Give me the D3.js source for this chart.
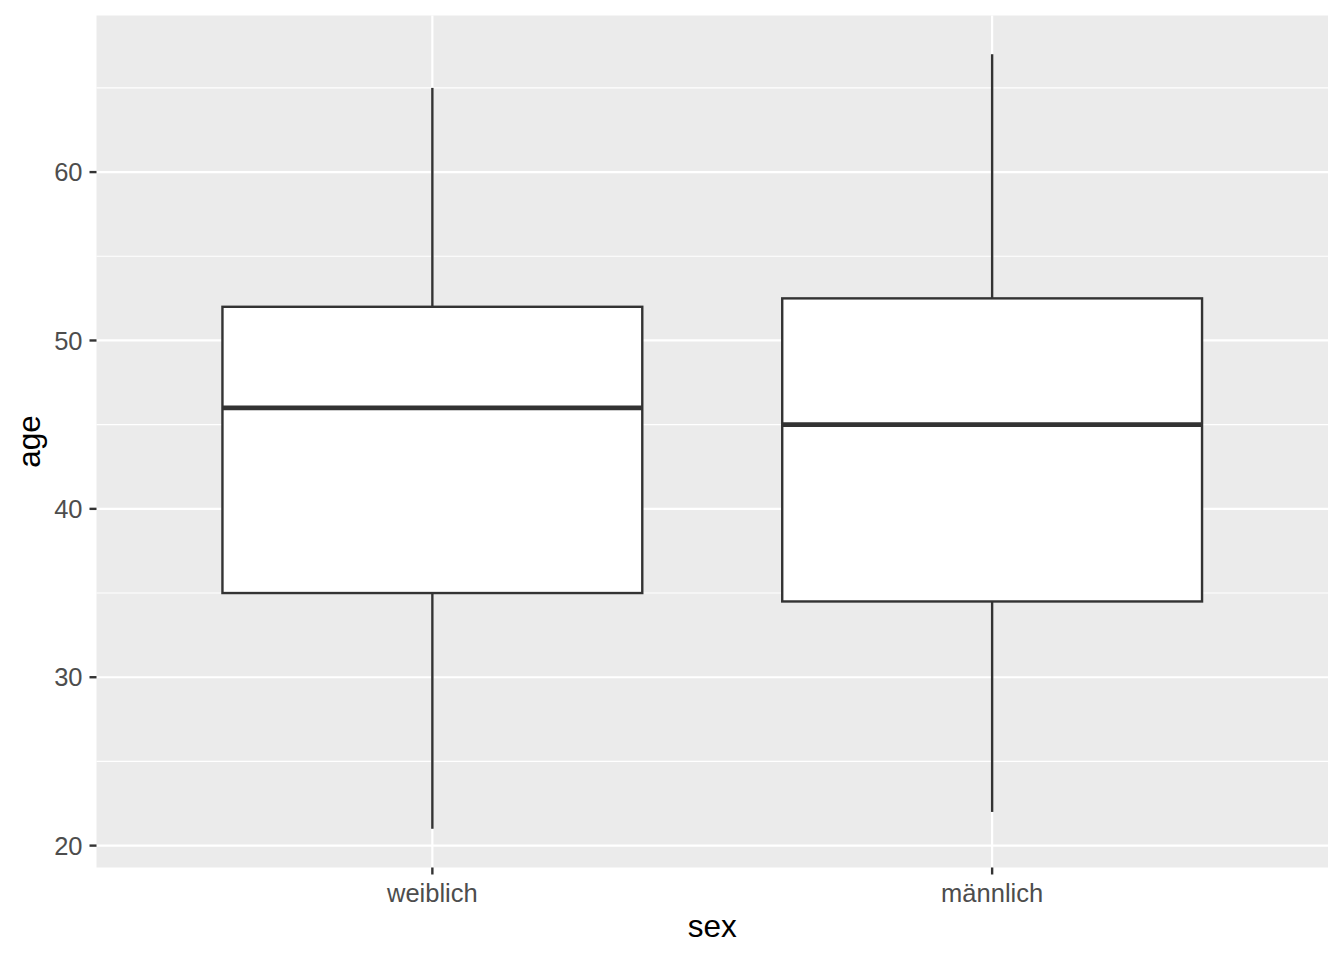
<!DOCTYPE html>
<html><head><meta charset="utf-8">
<script src="https://cdn.jsdelivr.net/npm/d3@7"></script>
<style>body{margin:0;background:#fff}</style>
</head><body>
<svg id="c" width="1344" height="960"></svg>
<script>
const categories = ["weiblich", "männlich"];
const lowerWhisker = [21, 22];
const q1 = [35, 34.5];
const median = [46, 45];
const q3 = [52, 52.5];
const upperWhisker = [65, 67];
const yTicks = [20, 30, 40, 50, 60];
const yMinor = [25, 35, 45, 55, 65];

const data = categories.map((c, i) => ({c, lo: lowerWhisker[i], q1: q1[i], med: median[i], q3: q3[i], hi: upperWhisker[i]}));

const L = 96.5, R = 1328, T = 15.5, B = 867.5;
const svg = d3.select("#c");
const font = "'Liberation Sans', Arial, sans-serif";

const lo = d3.min(lowerWhisker), hi = d3.max(upperWhisker);
const pad = (hi - lo) * 0.05;
const y = d3.scaleLinear().domain([lo - pad, hi + pad]).range([B, T]);
const x = d3.scaleLinear().domain([0.4, categories.length + 0.6]).range([L, R]);

svg.append("rect").attr("x", L).attr("y", T).attr("width", R - L).attr("height", B - T).attr("fill", "#EBEBEB");

const g = svg.append("g");
yMinor.forEach(v => g.append("line").attr("x1", L).attr("x2", R).attr("y1", y(v)).attr("y2", y(v)).attr("stroke", "#fff").attr("stroke-width", 1.1));
yTicks.forEach(v => g.append("line").attr("x1", L).attr("x2", R).attr("y1", y(v)).attr("y2", y(v)).attr("stroke", "#fff").attr("stroke-width", 2.2));
categories.forEach((c, i) => g.append("line").attr("x1", x(i + 1)).attr("x2", x(i + 1)).attr("y1", T).attr("y2", B).attr("stroke", "#fff").attr("stroke-width", 2.2));

const bw = 0.75 / 2;
data.forEach((d, i) => {
  const cx = x(i + 1);
  g.append("line").attr("x1", cx).attr("x2", cx).attr("y1", y(d.hi)).attr("y2", y(d.q3)).attr("stroke", "#333").attr("stroke-width", 2.4);
  g.append("line").attr("x1", cx).attr("x2", cx).attr("y1", y(d.q1)).attr("y2", y(d.lo)).attr("stroke", "#333").attr("stroke-width", 2.4);
  g.append("rect").attr("x", x(i + 1 - bw)).attr("y", y(d.q3)).attr("width", x(i + 1 + bw) - x(i + 1 - bw)).attr("height", y(d.q1) - y(d.q3))
    .attr("fill", "#fff").attr("stroke", "#333").attr("stroke-width", 2.4);
  g.append("line").attr("x1", x(i + 1 - bw)).attr("x2", x(i + 1 + bw)).attr("y1", y(d.med)).attr("y2", y(d.med)).attr("stroke", "#333").attr("stroke-width", 4.8);
});

yTicks.forEach(v => {
  svg.append("line").attr("x1", L - 7).attr("x2", L).attr("y1", y(v)).attr("y2", y(v)).attr("stroke", "#333").attr("stroke-width", 2.4);
  svg.append("text").attr("x", L - 14).attr("y", y(v)).attr("dy", "0.36em").attr("text-anchor", "end")
    .attr("font-family", font).attr("font-size", 25.5).attr("fill", "#4D4D4D").text(v);
});
categories.forEach((c, i) => {
  svg.append("line").attr("x1", x(i + 1)).attr("x2", x(i + 1)).attr("y1", B).attr("y2", B + 7).attr("stroke", "#333").attr("stroke-width", 2.4);
  svg.append("text").attr("x", x(i + 1)).attr("y", B + 34).attr("text-anchor", "middle")
    .attr("font-family", font).attr("font-size", 25.5).attr("fill", "#4D4D4D").text(c);
});
svg.append("text").attr("x", (L + R) / 2).attr("y", 937).attr("text-anchor", "middle")
  .attr("font-family", font).attr("font-size", 31.5).attr("fill", "#000").text("sex");
svg.append("text").attr("transform", `translate(40,${(T + B) / 2}) rotate(-90)`).attr("text-anchor", "middle")
  .attr("font-family", font).attr("font-size", 31.5).attr("fill", "#000").text("age");
</script>
</body></html>
